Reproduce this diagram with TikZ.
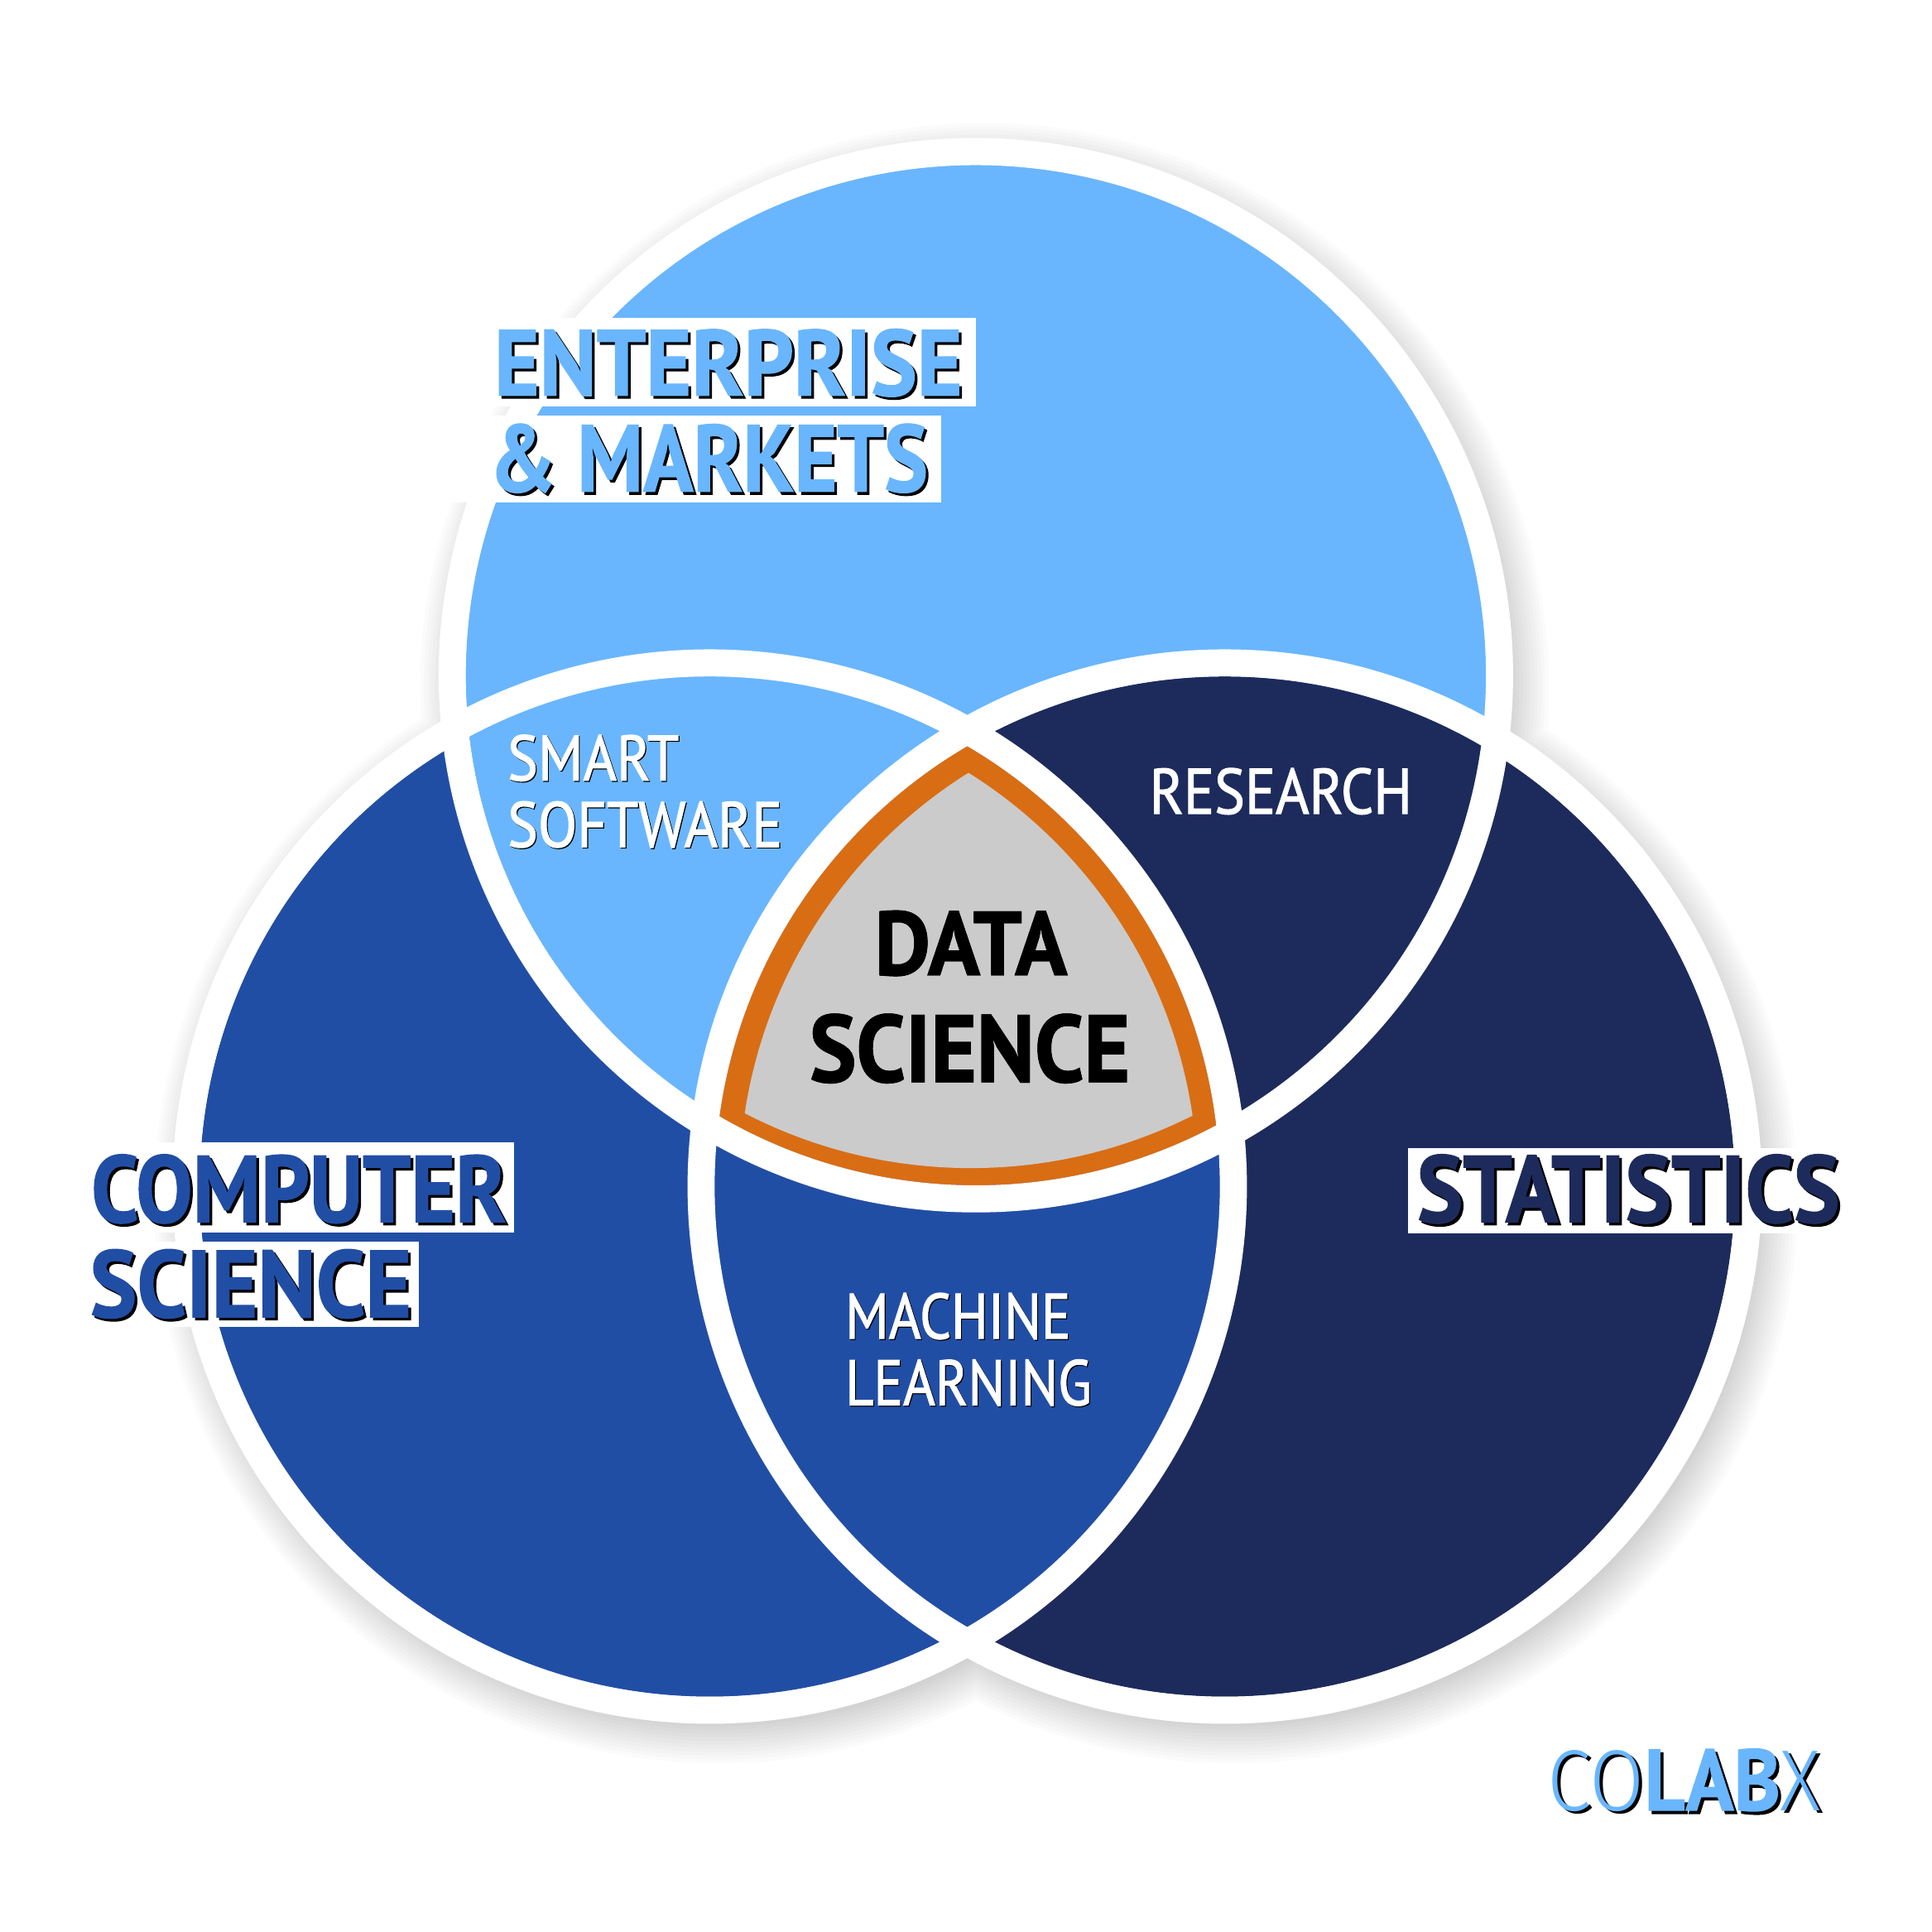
\documentclass[tikz,border=0pt]{standalone}
\usepackage{fontspec}
\usepackage{graphicx}
\setmainfont{PT Sans}
\newfontfamily\labfont[BoldFeatures={FakeBold=1.2},UprightFeatures={FakeBold=1.6}]{PT Sans}
\newfontfamily\thinfont{Fira Sans Light}
\definecolor{cLight}{HTML}{69B6FE}
\definecolor{cBlue}{HTML}{214EA5}
\definecolor{cNavy}{HTML}{1D2B5C}
\definecolor{cOrange}{HTML}{D96D14}
\definecolor{cGray}{HTML}{CBCBCB}
% #1 shadow offset (pt), #2 shadow colour, #3 text colour, #4 content
\newcommand{\shadowed}[4]{\leavevmode\rlap{\hspace{#1pt}\smash{\raisebox{-#1pt}{\color{#2}#4}}}{\color{#3}#4}}
% #1 name #2 x-left #3 y-base #4 x-right #5 y-top #6 shadow #7 shadow col #8 col #9 text
\newcommand{\lab}[9]{%
  \pgfmathsetmacro{\labW}{(#4-#2+3)*0.5}\pgfmathsetmacro{\labH}{(#3-#5)*0.5}%
  \node[txt] (#1) at (#2-2,#3) {\shadowed{#6}{#7}{#8}{\resizebox{\labW pt}{\labH pt}{#9}}};}
\tikzset{
  txt/.style={anchor=south west,inner sep=0pt,outer sep=0pt,font=\labfont},
  band/.style={fill=white,draw=none},
  ringline/.style={draw=white,line width=11pt},
}
\begin{document}
\begin{tikzpicture}[x=0.5pt,y=-0.5pt]
\useasboundingbox (0,0) rectangle (1568,1568);
\fill[white] (0,0) rectangle (1568,1568);
\coordinate (T) at (792,548);
\coordinate (L) at (576,963);
\coordinate (R) at (994,963);
\coordinate (Tg) at (788,548);
\coordinate (Rg) at (996,963);
% soft shadow
\foreach \r in {416,419,...,458}{
  \fill[black,opacity=0.016] ([xshift=3.5pt,yshift=-5pt]T) circle[radius=\r*0.5pt]
    ([xshift=3.5pt,yshift=-5pt]L) circle[radius=\r*0.5pt]
    ([xshift=3.5pt,yshift=-5pt]R) circle[radius=\r*0.5pt];
}
% discs
\fill[cNavy] (R) circle[radius=207pt];
\fill[cBlue] (L) circle[radius=207pt];
\fill[cLight] (T) circle[radius=207pt];
\begin{scope}
  \clip (T) circle[radius=207pt];
  \fill[cNavy] (R) circle[radius=207pt];
\end{scope}
% centre
\begin{scope}
  \clip (T) circle[radius=207pt];
  \clip (L) circle[radius=207pt];
  \fill[cOrange] (R) circle[radius=207pt];
\end{scope}
\begin{scope}
  \clip (Tg) circle[radius=200pt];
  \clip (L) circle[radius=198pt];
  \fill[cGray] (Rg) circle[radius=198pt];
\end{scope}
% white rings
\draw[ringline] (T) circle[radius=212.5pt];
\draw[ringline] (L) circle[radius=212.5pt];
\draw[ringline] (R) circle[radius=212.5pt];
% label bands
\fill[band] (360,258) rectangle (792,330);
\fill[band] (360,337) rectangle (764,408);
\fill[band] (60,927) rectangle (417,1000);
\fill[band] (60,1008) rectangle (340,1077);
\fill[band] (1143,932) rectangle (1500,1001);
% labels
\lab{enterprise}{403}{322}{780}{268}{1.1}{black}{cLight}{\bfseries ENTERPRISE}
\lab{markets}{399}{400}{752}{345}{1.1}{black}{cLight}{\bfseries \& MARKETS}
\lab{computer}{76}{993}{410}{938}{1.1}{black}{cBlue}{\bfseries COMPUTER}
\lab{csci}{75}{1070}{333}{1015}{1.1}{black}{cBlue}{\bfseries SCIENCE}
\lab{statistics}{1152}{993}{1492}{938}{1.1}{black}{cNavy}{\bfseries STATISTICS}
\lab{data}{712}{792}{865}{740}{0}{black}{black}{\bfseries DATA}
\lab{dsci}{659}{879}{916}{824}{0}{black}{black}{\bfseries SCIENCE}
\lab{smart}{414}{634}{550}{597}{0.4}{black}{white}{SMART}
\lab{software}{414}{688}{634}{651}{0.4}{black}{white}{SOFTWARE}
\lab{research}{935}{661}{1145}{624}{0.4}{cNavy}{white}{RESEARCH}
\lab{machine}{688}{1087}{868}{1050}{0.4}{black}{white}{MACHINE}
\lab{learning}{688}{1141}{885}{1104}{0.4}{black}{white}{LEARNING}
\lab{colabx}{1258}{1470}{1477}{1420}{1.3}{black}{cLight}{{\thinfont CO}{\bfseries LAB}{\thinfont X}}
\end{tikzpicture}
\end{document}
